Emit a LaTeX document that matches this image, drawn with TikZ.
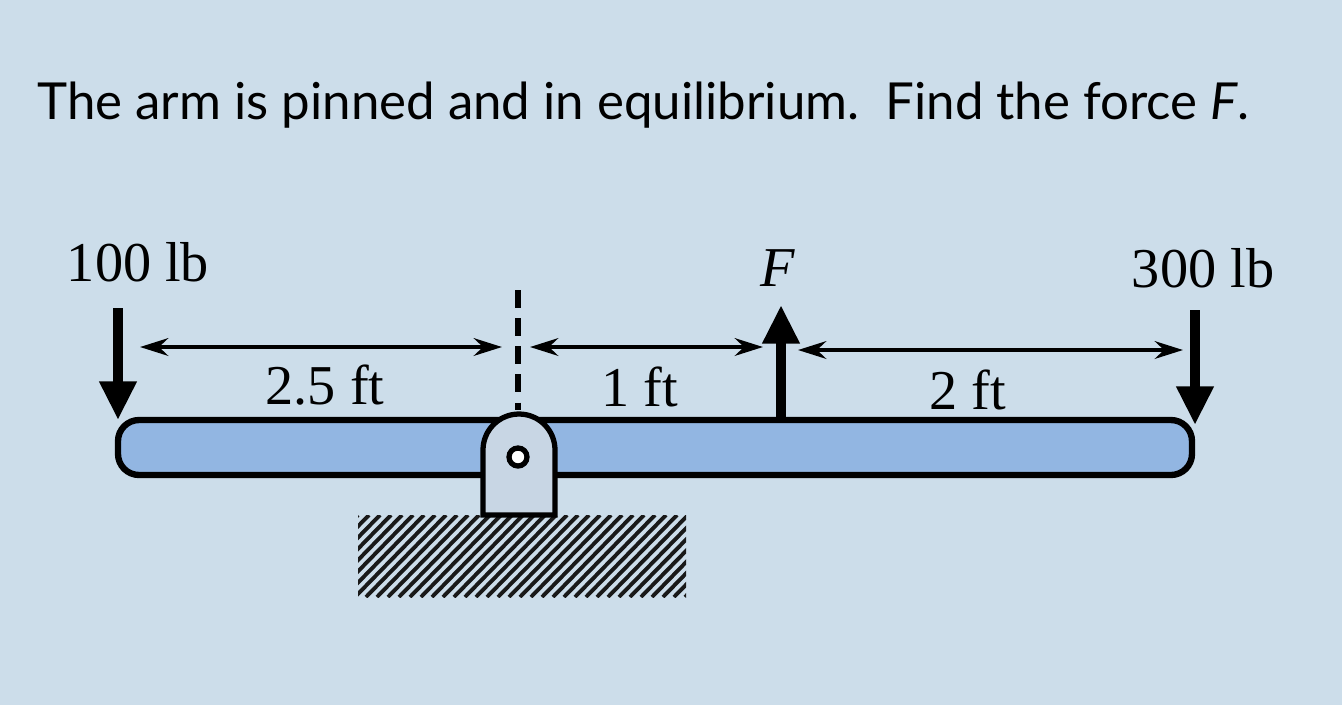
\documentclass[tikz,border=0pt]{standalone}
\usepackage{fontspec}
\setmainfont{Liberation Serif}
\newfontfamily\titlefont{Lato}
\usetikzlibrary{arrows.meta}
\begin{document}
\begin{tikzpicture}[x=0.01cm,y=-0.01cm,
  dim/.style={{Stealth[length=8pt,width=5pt]}-{Stealth[length=8pt,width=5pt]},line width=1.2pt},
  force/.style={-{Triangle[length=11pt,width=10pt]},line width=3pt},
  lbl/.style={font=\fontsize{16}{18}\selectfont}]
\definecolor{bg}{HTML}{CCDDEA}
\definecolor{beam}{HTML}{92B6E2}
\definecolor{supp}{HTML}{C8D6E4}
\fill[bg] (0,0) rectangle (1342,705);
\useasboundingbox (0,0) rectangle (1342,705);
\node[anchor=west,font=\titlefont\fontsize{14.5}{17}\selectfont] (title) at (25,105) {The arm is pinned and in equilibrium.\ \ Find the force \textit{F}.};
% hatch
\begin{scope}
\clip (358,515) rectangle (686,597);
\foreach \i in {0,11,...,440} \draw[line width=1.1pt,black!90] (358+\i-80,597) -- (358+\i,515);
\end{scope}
% beam
\draw[line width=1.8pt,fill=beam,rounded corners=6pt] (118,420) rectangle (1192,475);
% support
\draw[line width=1.5pt,fill=supp] (483,515) -- (483,450) arc[start angle=180,end angle=360,radius=36] -- (555,515) -- cycle;
\draw[line width=1.5pt,fill=white] (518,457) circle (9);
\draw[line width=1.8pt,dash pattern=on 5pt off 3pt] (518,290) -- (518,410);
% forces
\coordinate (a1) at (118,308); \coordinate (a2) at (118,420);
\coordinate (f1) at (781,420); \coordinate (f2) at (781,305);
\coordinate (b1) at (1195,310); \coordinate (b2) at (1195,425);
\draw[force] (a1) -- (a2);
\draw[force] (f1) -- (f2);
\draw[force] (b1) -- (b2);
% dims
\coordinate (d1) at (140,347); \coordinate (d2) at (502,347);
\coordinate (d3) at (530,347); \coordinate (d4) at (763,347);
\coordinate (d5) at (798,350); \coordinate (d6) at (1183,350);
\draw[dim] (d1) -- (d2);
\draw[dim] (d3) -- (d4);
\draw[dim] (d5) -- (d6);
\node[lbl] (l1) at (138,262) {100 lb};
\node[lbl] (lF) at (778,268) {\textit{F}};
\node[lbl] (l3) at (1203,268) {300 lb};
\node[lbl] (m1) at (325,385) {2.5 ft};
\node[lbl] (m2) at (640,387) {1 ft};
\node[lbl] (m3) at (968,390) {2 ft};
\end{tikzpicture}
\end{document}
